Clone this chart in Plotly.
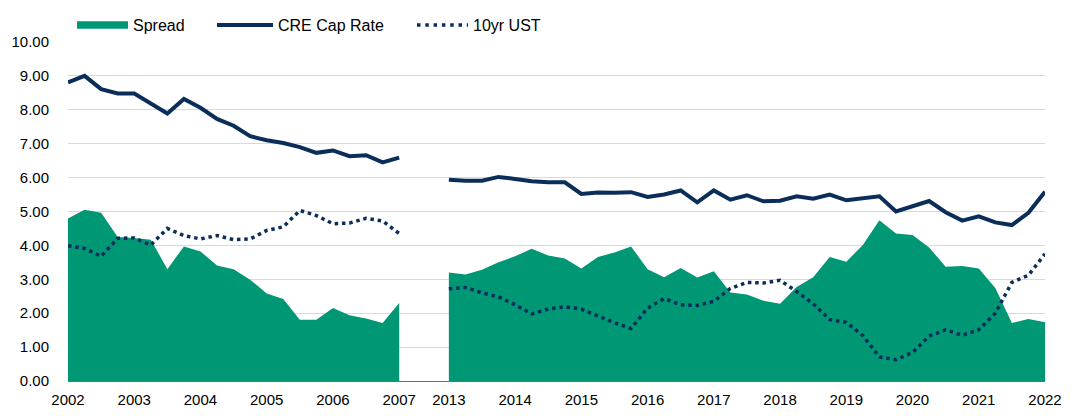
import plotly.graph_objects as go

# Periods (quarterly). Two blank slots mark the break between 2007 and 2013.
periods_a = [f"{y}Q{q}" for y in range(2002, 2007) for q in range(1, 5)] + ["2007Q1"]
gap_slots = [" ", "  "]
periods_b = [f"{y}Q{q}" for y in range(2013, 2022) for q in range(1, 5)] + ["2022Q1"]
categories = periods_a + gap_slots + periods_b

tick_years = ["2002", "2003", "2004", "2005", "2006", "2007",
              "2013", "2014", "2015", "2016", "2017", "2018", "2019", "2020", "2021", "2022"]
tick_cats = [f"{y}Q1" for y in tick_years]

cap_rate = [8.81, 9.00, 8.61, 8.48, 8.48, 8.18, 7.89, 8.32, 8.06, 7.73, 7.53, 7.22,
            7.10, 7.02, 6.90, 6.73, 6.80, 6.63, 6.66, 6.45, 6.59,
            None, None,
            5.94, 5.91, 5.91, 6.02, 5.96, 5.89, 5.86, 5.86, 5.52, 5.56, 5.55, 5.57,
            5.43, 5.50, 5.62, 5.27, 5.62, 5.35, 5.48, 5.30, 5.32, 5.45, 5.38, 5.50,
            5.33, 5.38, 5.45, 5.00, 5.17, 5.31, 4.98, 4.73, 4.86, 4.68, 4.60, 4.96, 5.58]

ust_10yr = [3.99, 3.91, 3.68, 4.21, 4.22, 4.01, 4.50, 4.29, 4.19, 4.29, 4.17, 4.19,
            4.44, 4.55, 5.03, 4.88, 4.64, 4.66, 4.80, 4.72, 4.35,
            None, None,
            2.72, 2.76, 2.60, 2.48, 2.25, 1.98, 2.12, 2.19, 2.12, 1.91, 1.72, 1.55,
            2.15, 2.43, 2.25, 2.23, 2.35, 2.73, 2.91, 2.89, 2.97, 2.64, 2.28, 1.81,
            1.73, 1.34, 0.71, 0.63, 0.84, 1.32, 1.51, 1.35, 1.51, 2.00, 2.91, 3.12, 3.75]

spread = [4.79, 5.05, 4.96, 4.25, 4.22, 4.17, 3.30, 3.97, 3.82, 3.41, 3.30, 2.99,
          2.58, 2.42, 1.81, 1.81, 2.15, 1.94, 1.84, 1.71, 2.30,
          None, None,
          3.20, 3.14, 3.28, 3.50, 3.68, 3.90, 3.70, 3.61, 3.32, 3.66, 3.79, 3.97,
          3.30, 3.06, 3.33, 3.05, 3.24, 2.61, 2.55, 2.37, 2.28, 2.77, 3.06, 3.66,
          3.52, 4.01, 4.74, 4.35, 4.31, 3.94, 3.37, 3.39, 3.32, 2.74, 1.71, 1.83, 1.73]

y_ticks = [0, 1, 2, 3, 4, 5, 6, 7, 8, 9, 10]

GREEN = "#009775"
NAVY = "#0a2d5a"
FONT = "Liberation Sans, Arial, sans-serif"

fig = go.Figure()

# spread area: one filled segment per continuous run (split at the gap)
segments = []
start = None
for i, v in enumerate(spread):
    if v is not None and start is None:
        start = i
    if (v is None or i == len(spread) - 1) and start is not None:
        end = i if v is None else i + 1
        segments.append((start, end))
        start = None
for a, b in segments:
    fig.add_trace(go.Scatter(x=categories[a:b], y=spread[a:b], mode="lines", fill="tozeroy",
                             fillcolor=GREEN, line=dict(color=GREEN, width=0),
                             showlegend=False, hoverinfo="skip"))

fig.add_trace(go.Scatter(x=categories, y=cap_rate, mode="lines",
                         line=dict(color=NAVY, width=4), connectgaps=False,
                         showlegend=False))
fig.add_trace(go.Scatter(x=categories, y=ust_10yr, mode="lines",
                         line=dict(color=NAVY, width=3.5, dash="3.5px,3.8px"),
                         connectgaps=False, showlegend=False))

# legend entries
fig.add_trace(go.Scatter(x=[None], y=[None], mode="lines", name="Spread",
                         line=dict(color=GREEN, width=7.5), legend="legend"))
fig.add_trace(go.Scatter(x=[None], y=[None], mode="lines", name="CRE Cap Rate",
                         line=dict(color=NAVY, width=4), legend="legend2"))
fig.add_trace(go.Scatter(x=[None], y=[None], mode="lines", name="10yr UST",
                         line=dict(color=NAVY, width=3.5, dash="3.5px,4.8px"), legend="legend3"))

leg_common = dict(orientation="h", yref="container", xref="container", y=1.0, yanchor="top",
                  xanchor="left", font=dict(family=FONT, size=16, color="#000000"),
                  bgcolor="rgba(0,0,0,0)", tracegroupgap=0)

fig.update_layout(
    width=1089, height=416,
    margin=dict(l=60, r=52, t=34, b=43, autoexpand=False),
    paper_bgcolor="white", plot_bgcolor="white",
    font=dict(family=FONT, size=15, color="#000000"),
    legend=dict(x=64 / 1089, itemwidth=51, **leg_common),
    legend2=dict(x=204 / 1089, itemwidth=56, **leg_common),
    legend3=dict(x=404 / 1089, itemwidth=51, **leg_common),
    xaxis=dict(type="category", categoryorder="array", categoryarray=categories,
               range=[0, len(categories) - 1], tickmode="array",
               tickvals=tick_cats, ticktext=tick_years, showgrid=False,
               showline=True, linecolor="#6f6f6f", linewidth=1, ticks="",
               ticklabelstandoff=5,
               tickfont=dict(family=FONT, size=15, color="#000000"), zeroline=False),
    yaxis=dict(range=[0, 10], tickvals=y_ticks, tickformat=".2f",
               showgrid=True, gridcolor="#d9d9d9", gridwidth=1, zeroline=False,
               ticks="", ticklabelstandoff=18, showline=False,
               tickfont=dict(family=FONT, size=15, color="#000000")),
)

fig.write_html("out.html")
